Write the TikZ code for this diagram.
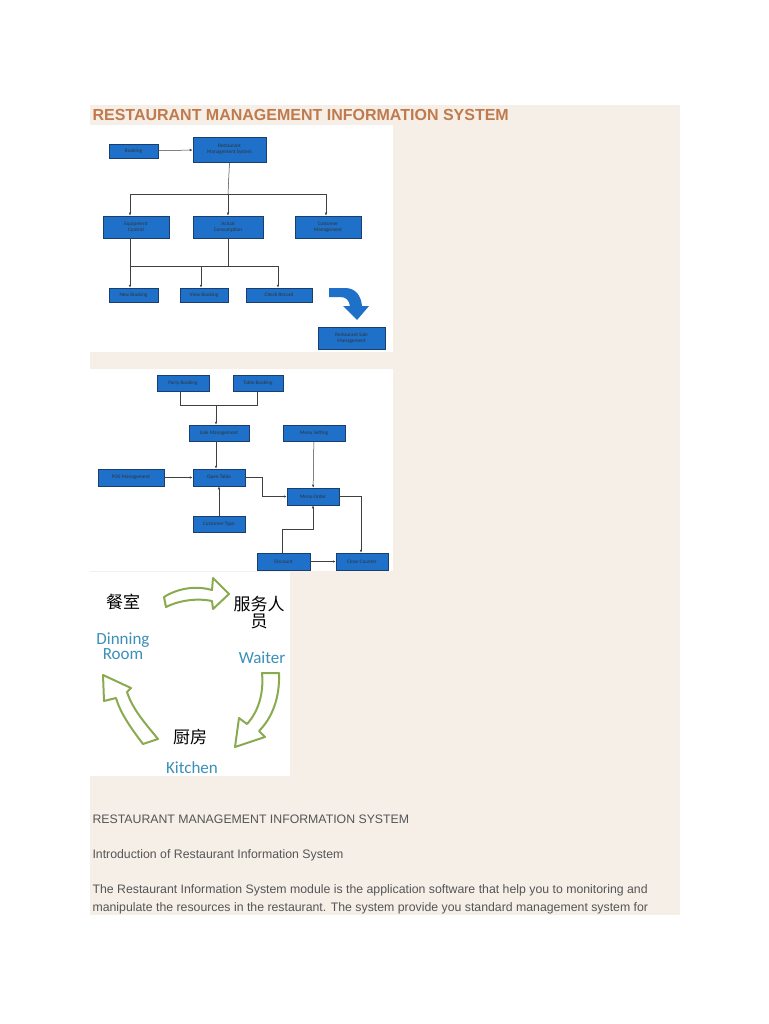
\documentclass[tikz,border=0pt]{standalone}
\usepackage{fontspec}
\setmainfont{Liberation Sans}
\newfontfamily\cjk{Noto Sans CJK SC}
\newfontfamily\boxfont{Carlito}
\usetikzlibrary{arrows.meta}
\definecolor{panel}{HTML}{F5EFE8}
\definecolor{titlec}{HTML}{C07A4C}
\definecolor{bodyc}{HTML}{555555}
\definecolor{boxblue}{HTML}{1E70C8}
\definecolor{boxedge}{HTML}{1A3F6E}
\definecolor{cycgreen}{HTML}{8AAA50}
\definecolor{cycblue}{HTML}{3B8FB8}
\tikzset{
 box/.style={draw=boxedge, fill=boxblue, line width=0.5pt, inner sep=0pt, align=center, text=black!80, font=\boxfont\fontsize{5.2}{5.6}\selectfont},
 conn/.style={draw=black!75, line width=0.5pt},
 arr/.style={conn, -{Latex[length=3pt,width=2.4pt]}},
 cyc/.style={draw=cycgreen, line width=2pt, fill=white, line join=round},
 bluet/.style={text=cycblue, font=\fontspec{Carlito}\fontsize{17}{17}\selectfont},
 cjkt/.style={text=black, font=\cjk\fontsize{17}{17}\selectfont},
 body/.style={text=bodyc, anchor=west, font=\fontsize{12.3}{15}\selectfont}
}
\begin{document}
\begin{tikzpicture}[x=1pt,y=-1pt]
\useasboundingbox (0,0) rectangle (768,1024);
\fill[white] (0,0) rectangle (768,1024);
\fill[panel] (90,105) rectangle (680,915);
\fill[white] (90,125) rectangle (393,352);
\fill[white] (90,369) rectangle (393,571);
\fill[white] (90,572) rectangle (290,776);
\node[anchor=west, text=titlec, font=\bfseries\fontsize{16}{16}\selectfont] (title) at (89,115) {RESTAURANT MANAGEMENT INFORMATION SYSTEM};

% diagram 1
\node[box, minimum width=49pt, minimum height=14pt] (book) at (133.5,151) {Booking};
\node[box, minimum width=73pt, minimum height=25pt] (rms) at (229.5,149.5) {Restaurant\\Management System};
\node[box, minimum width=66pt, minimum height=22pt] (ec) at (136,227) {Equipment\\Control};
\node[box, minimum width=70pt, minimum height=22pt] (ac) at (228,227) {Actual\\Consumption};
\node[box, minimum width=66pt, minimum height=22pt] (cm) at (328,227) {Customer\\Management};
\node[box, minimum width=49pt, minimum height=14pt] (nb) at (133.5,295) {New Booking};
\node[box, minimum width=48pt, minimum height=14pt] (vb) at (204,295) {View Booking};
\node[box, minimum width=66pt, minimum height=14pt] (cr) at (279,295) {Check Record};
\node[box, minimum width=67pt, minimum height=22pt] (rsm) at (351.5,338) {Restaurant Sale\\Management};
\draw[arr] (book) -- (rms);
\coordinate (h1l) at (130,194); \coordinate (h1r) at (326,194);
\draw[conn] (rms.south) -- (228,194);
\draw[conn] (h1l) -- (h1r);
\draw[arr] (h1l) -- (ec.north -| h1l);
\draw[arr] (228,194) -- (ac.north);
\draw[arr] (h1r) -- (cm.north -| h1r);
\coordinate (h2l) at (130,266); \coordinate (h2r) at (278,266);
\draw[conn] (ec.south -| h2l) -- (h2l);
\draw[conn] (ac.south) -- (228,266);
\draw[conn] (h2l) -- (h2r);
\draw[arr] (h2l) -- (nb.north -| h2l);
\draw[arr] (201,266) -- (vb.north -| 201,0);
\draw[arr] (h2r) -- (cr.north -| h2r);
\fill[boxblue] (329,288) -- (345,288) .. controls (356,288) and (361,296) .. (362,306) -- (369,306) -- (357,320) -- (343,306) -- (350,306) .. controls (349,300) and (346,297) .. (340,297) -- (329,297) -- cycle;

% diagram 2
\node[box, minimum width=52pt, minimum height=16pt] (pb) at (183,383) {Party Booking};
\node[box, minimum width=50pt, minimum height=16pt] (tb) at (258,383) {Table Booking};
\node[box, minimum width=60pt, minimum height=16pt] (sm) at (219,433) {Sale Management};
\node[box, minimum width=62pt, minimum height=16pt] (ms) at (314,433) {Menu Setting};
\node[box, minimum width=66pt, minimum height=17pt] (pos) at (131,477.5) {POS Management};
\node[box, minimum width=52pt, minimum height=17pt] (ot) at (219,477.5) {Open Table};
\node[box, minimum width=52pt, minimum height=17pt] (mo) at (313,496.5) {Menu Order};
\node[box, minimum width=52pt, minimum height=16pt] (ct) at (219,524) {Customer Type};
\node[box, minimum width=53pt, minimum height=17pt] (dc) at (283.5,561.5) {Discount};
\node[box, minimum width=52pt, minimum height=17pt] (cc) at (362,561.5) {Close Counter};
\draw[conn] (pb.south -| 180,0) |- (216,405);
\draw[conn] (tb.south -| 257,0) |- (216,405);
\draw[arr] (216,405) -- (sm.north -| 216,0);
\draw[arr] (sm.south -| 216,0) -- (ot.north -| 216,0);
\draw[arr] (pos) -- (ot);
\draw[arr] (ct) -- (ot);
\draw[arr] (ot.east) -- (262,477.5) |- (mo.west);
\draw[arr] (ms) -- (mo);
\draw[arr] (mo.east) -- (361,496.5) -- (cc.north -| 361,0);
\draw[arr] (dc.north -| 282,0) |- (313,529) -- (mo.south);
\draw[arr] (dc) -- (cc);

% diagram 3
\node[cjkt] (dr) at (123,602) {餐室};
\node[bluet, align=center] (dre) at (123,646) {Dinning\\[-2pt]Room};
\node[cjkt, align=center] (wt) at (259,613) {服务人\\员};
\node[bluet] (wte) at (262,658) {Waiter};
\node[cjkt] (kt) at (190,737) {厨房};
\node[bluet] (kte) at (192,768) {Kitchen};
\draw[cyc] (164,597) .. controls (180,587) and (198,586) .. (212,590) -- (213,578) -- (229,594) -- (213,609) -- (212,601) .. controls (198,598) and (180,600) .. (166,607) -- cycle;
\draw[cyc] (262,673) -- (279,673) .. controls (280,698) and (272,718) .. (259,731) -- (265,737) -- (235,747) -- (239,718) -- (247,724) .. controls (258,712) and (264,694) .. cycle;
\draw[cyc] (158,739) -- (143,744) .. controls (130,727) and (120,712) .. (116,698) -- (104,701) -- (103,675) -- (131,688) -- (127,692) .. controls (133,710) and (145,723) .. cycle;

% text
\node[body] (t1) at (89,819) {RESTAURANT MANAGEMENT INFORMATION SYSTEM};
\node[body] (t2) at (89,855) {Introduction of Restaurant Information System};
\node[body] (t3) at (89,890) {The Restaurant Information System module is the application software that help you to monitoring and};
\node[body] (t4) at (89,908) {manipulate the resources in the restaurant. The system provide you standard management system for};
\end{tikzpicture}
\end{document}
